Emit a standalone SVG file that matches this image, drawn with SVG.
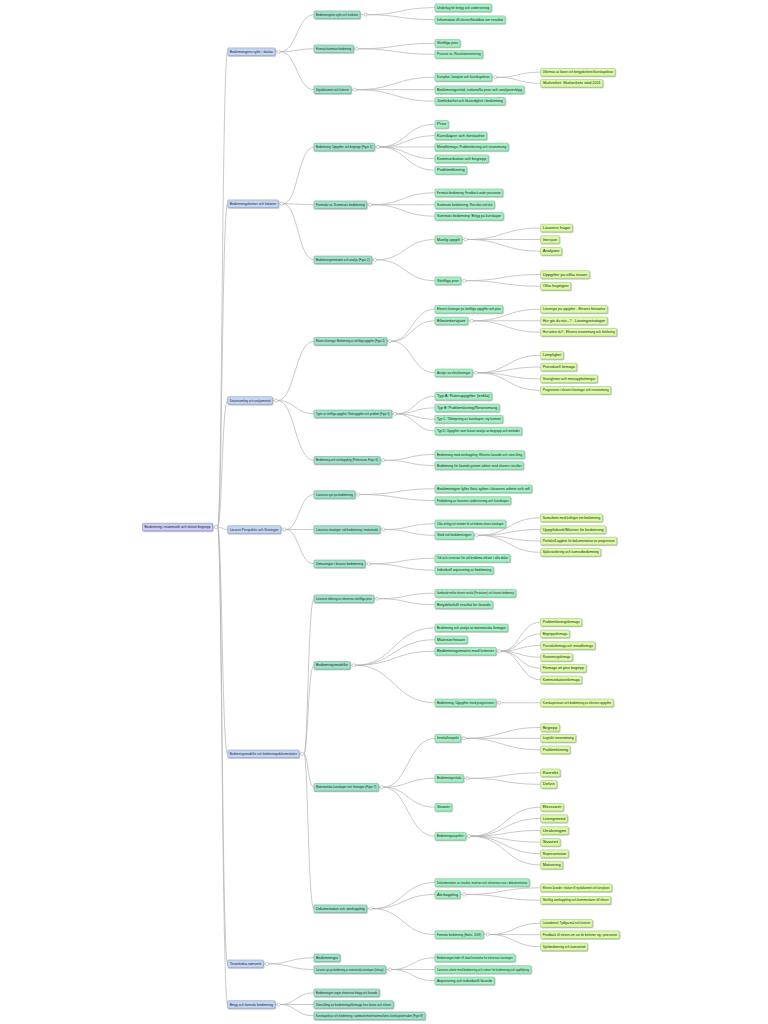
<svg xmlns="http://www.w3.org/2000/svg" width="768" height="1024" viewBox="0 0 768 1024">
<defs>
<filter id="ds" x="-10%" y="-30%" width="120%" height="170%"><feDropShadow dx="0.6" dy="0.8" stdDeviation="0.4" flood-color="#777" flood-opacity="0.6"/></filter>
<style>
rect{stroke-width:0.6;filter:url(#ds)}
.l0 rect{fill:#c9cdf4;stroke:#8b94d6}
.l1 rect{fill:#c5d7f3;stroke:#86a6d6}
.l2 rect{fill:#a0e2cc;stroke:#6fb69b}
.l3 rect{fill:#a4efc4;stroke:#7cc49a}
.l4 rect{fill:#dafca6;stroke:#a9c77e}
text{font-family:"Liberation Sans",Arial,sans-serif;font-size:3.3px;fill:#222}
.c path{fill:none;stroke:#b2b2b2;stroke-width:0.7}
.c line{stroke:#b2b2b2;stroke-width:0.7}
.c circle{fill:#fff;stroke:#9a9a9a;stroke-width:0.5}
</style>
</defs>
<rect width="768" height="1024" fill="#fff" style="filter:none;stroke:none"/>
<g id="connectors" class="c">
<path d="M217.6 527C222 527 222 51.7 227.7 51.7M217.6 527C222 527 222 203.7 227.7 203.7M217.6 527C222 527 222 400.5 227.7 400.5M217.6 527C222 527 222 529.5 227.7 529.5M217.6 527C222 527 222 753.8 227.7 753.8M217.6 527C222 527 222 963.8 227.7 963.8M217.6 527C222 527 222 1004.5 227.7 1004.5"/>
<path d="M280.3 51.7C297 51.7 297 14.7 314 14.7M280.3 51.7C297 51.7 297 48.8 314 48.8M280.3 51.7C297 51.7 297 89.7 314 89.7"/>
<path d="M283.3 203.7C298 203.7 298 147 314 147M283.3 203.7C298 203.7 298 204.7 314 204.7M283.3 203.7C298 203.7 298 259.8 314 259.8"/>
<path d="M277.6 400.5C295 400.5 295 341.2 314 341.2M277.6 400.5C295 400.5 295 413.8 314 413.8M277.6 400.5C295 400.5 295 460.3 314 460.3"/>
<path d="M285.9 529.5C299 529.5 299 494.5 314 494.5M285.9 529.5C299 529.5 299 529.5 314 529.5M285.9 529.5C299 529.5 299 563.8 314 563.8"/>
<path d="M303.9 753.8C308 753.8 308 598.7 314 598.7M303.9 753.8C308 753.8 308 665.3 314 665.3M303.9 753.8C308 753.8 308 787.2 314 787.2M303.9 753.8C308 753.8 308 908.7 314 908.7"/>
<path d="M268.6 963.8C290 963.8 290 957.8 314 957.8M268.6 963.8C290 963.8 290 969.5 314 969.5"/>
<path d="M280.3 1004.5C296 1004.5 296 992.8 314 992.8M280.3 1004.5C296 1004.5 296 1004.5 314 1004.5M280.3 1004.5C296 1004.5 296 1015.8 314 1015.8"/>
<path d="M367.3 14.7C400 14.7 400 7.7 435 7.7M367.3 14.7C400 14.7 400 19.7 435 19.7"/>
<path d="M358.3 48.8C396 48.8 396 43.3 435 43.3M358.3 48.8C396 48.8 396 54.3 435 54.3"/>
<path d="M356.3 89.7C395 89.7 395 77.3 435 77.3M356.3 89.7C395 89.7 395 89.7 435 89.7M356.3 89.7C395 89.7 395 101.2 435 101.2"/>
<path d="M379.6 147C406 147 406 124.3 435 124.3M379.6 147C406 147 406 135.7 435 135.7M379.6 147C406 147 406 147 435 147M379.6 147C406 147 406 158.7 435 158.7M379.6 147C406 147 406 170.2 435 170.2"/>
<path d="M371.9 204.7C403 204.7 403 192.8 435 192.8M371.9 204.7C403 204.7 403 204.7 435 204.7M371.9 204.7C403 204.7 403 216.2 435 216.2"/>
<path d="M376.6 259.8C405 259.8 405 239.5 435 239.5M376.6 259.8C405 259.8 405 280.7 435 280.7"/>
<path d="M391.6 341.2C412 341.2 412 309.2 435 309.2M391.6 341.2C412 341.2 412 320.8 435 320.8M391.6 341.2C412 341.2 412 372.8 435 372.8"/>
<path d="M396.6 413.8C415 413.8 415 396.2 435 396.2M396.6 413.8C415 413.8 415 407.8 435 407.8M396.6 413.8C415 413.8 415 419.2 435 419.2M396.6 413.8C415 413.8 415 431 435 431"/>
<path d="M384.9 460.3C409 460.3 409 454.5 435 454.5M384.9 460.3C409 460.3 409 465.5 435 465.5"/>
<path d="M359.9 494.5C397 494.5 397 488.8 435 488.8M359.9 494.5C397 494.5 397 500.5 435 500.5"/>
<path d="M384.9 529.5C409 529.5 409 523.8 435 523.8M384.9 529.5C409 529.5 409 535.3 435 535.3"/>
<path d="M370.3 563.8C402 563.8 402 558.3 435 558.3M370.3 563.8C402 563.8 402 570.2 435 570.2"/>
<path d="M378.9 598.7C406 598.7 406 593.2 435 593.2M378.9 598.7C406 598.7 406 604.7 435 604.7"/>
<path d="M355.3 665.3C394 665.3 394 627.8 435 627.8M355.3 665.3C394 665.3 394 639.7 435 639.7M355.3 665.3C394 665.3 394 651.2 435 651.2M355.3 665.3C394 665.3 394 702.8 435 702.8"/>
<path d="M383.3 787.2C408 787.2 408 738.3 435 738.3M383.3 787.2C408 787.2 408 778.3 435 778.3M383.3 787.2C408 787.2 408 807.2 435 807.2M383.3 787.2C408 787.2 408 836.2 435 836.2"/>
<path d="M372.3 908.7C403 908.7 403 882.5 435 882.5M372.3 908.7C403 908.7 403 894.5 435 894.5M372.3 908.7C403 908.7 403 934.5 435 934.5"/>
<path d="M391.6 969.5C412 969.5 412 957.8 435 957.8M391.6 969.5C412 969.5 412 969.5 435 969.5M391.6 969.5C412 969.5 412 980.8 435 980.8"/>
<path d="M496.9 77.3C518 77.3 518 72.2 540.7 72.2M496.9 77.3C518 77.3 518 83.3 540.7 83.3"/>
<path d="M467.3 239.5C503 239.5 503 228 540.7 228M467.3 239.5C503 239.5 503 239.5 540.7 239.5M467.3 239.5C503 239.5 503 251.2 540.7 251.2"/>
<path d="M465.9 280.7C502 280.7 502 274.5 540.7 274.5M465.9 280.7C502 280.7 502 286.2 540.7 286.2"/>
<path d="M473.3 320.8C506 320.8 506 309.2 540.7 309.2M473.3 320.8C506 320.8 506 320.8 540.7 320.8M473.3 320.8C506 320.8 506 332.2 540.7 332.2"/>
<path d="M477.6 372.8C508 372.8 508 355.3 540.7 355.3M477.6 372.8C508 372.8 508 367 540.7 367M477.6 372.8C508 372.8 508 378.8 540.7 378.8M477.6 372.8C508 372.8 508 390.3 540.7 390.3"/>
<path d="M478.3 535.3C509 535.3 509 517.8 540.7 517.8M478.3 535.3C509 535.3 509 529.5 540.7 529.5M478.3 535.3C509 535.3 509 541 540.7 541M478.3 535.3C509 535.3 509 552.3 540.7 552.3"/>
<path d="M500.9 651.2C520 651.2 520 622.2 540.7 622.2M500.9 651.2C520 651.2 520 633.8 540.7 633.8M500.9 651.2C520 651.2 520 645.5 540.7 645.5M500.9 651.2C520 651.2 520 657.2 540.7 657.2M500.9 651.2C520 651.2 520 668.3 540.7 668.3M500.9 651.2C520 651.2 520 679.7 540.7 679.7"/>
<path d="M500.9 702.8L540.7 702.8"/>
<path d="M465.6 738.3C502 738.3 502 727.5 540.7 727.5M465.6 738.3C502 738.3 502 738.3 540.7 738.3M465.6 738.3C502 738.3 502 749.8 540.7 749.8"/>
<path d="M468.9 778.3C504 778.3 504 772.8 540.7 772.8M468.9 778.3C504 778.3 504 784.3 540.7 784.3"/>
<path d="M470.6 836.2C505 836.2 505 807.2 540.7 807.2M470.6 836.2C505 836.2 505 818.5 540.7 818.5M470.6 836.2C505 836.2 505 830.5 540.7 830.5M470.6 836.2C505 836.2 505 842.2 540.7 842.2M470.6 836.2C505 836.2 505 853.7 540.7 853.7M470.6 836.2C505 836.2 505 865 540.7 865"/>
<path d="M465.6 894.5C502 894.5 502 887.8 540.7 887.8M465.6 894.5C502 894.5 502 900.2 540.7 900.2"/>
<path d="M489.3 934.5C514 934.5 514 923.3 540.7 923.3M489.3 934.5C514 934.5 514 934.7 540.7 934.7M489.3 934.5C514 934.5 514 946.7 540.7 946.7"/>
<line x1="212.5" y1="527" x2="214.4" y2="527"/><circle cx="216" cy="527" r="1.6"/>
<line x1="275" y1="51.7" x2="277.1" y2="51.7"/><circle cx="278.7" cy="51.7" r="1.6"/>
<line x1="278.3" y1="203.7" x2="280.1" y2="203.7"/><circle cx="281.7" cy="203.7" r="1.6"/>
<line x1="272.3" y1="400.5" x2="274.4" y2="400.5"/><circle cx="276" cy="400.5" r="1.6"/>
<line x1="280.7" y1="529.5" x2="282.7" y2="529.5"/><circle cx="284.3" cy="529.5" r="1.6"/>
<line x1="299" y1="753.8" x2="300.7" y2="753.8"/><circle cx="302.3" cy="753.8" r="1.6"/>
<line x1="263.3" y1="963.8" x2="265.4" y2="963.8"/><circle cx="267" cy="963.8" r="1.6"/>
<line x1="275" y1="1004.5" x2="277.1" y2="1004.5"/><circle cx="278.7" cy="1004.5" r="1.6"/>
<line x1="360" y1="14.7" x2="364.1" y2="14.7"/><circle cx="365.7" cy="14.7" r="1.6"/>
<line x1="353.3" y1="48.8" x2="355.1" y2="48.8"/><circle cx="356.7" cy="48.8" r="1.6"/>
<line x1="351" y1="89.7" x2="353.1" y2="89.7"/><circle cx="354.7" cy="89.7" r="1.6"/>
<line x1="374.3" y1="147" x2="376.4" y2="147"/><circle cx="378" cy="147" r="1.6"/>
<line x1="366.7" y1="204.7" x2="368.7" y2="204.7"/><circle cx="370.3" cy="204.7" r="1.6"/>
<line x1="371.7" y1="259.8" x2="373.4" y2="259.8"/><circle cx="375" cy="259.8" r="1.6"/>
<line x1="386.7" y1="341.2" x2="388.4" y2="341.2"/><circle cx="390" cy="341.2" r="1.6"/>
<line x1="391.7" y1="413.8" x2="393.4" y2="413.8"/><circle cx="395" cy="413.8" r="1.6"/>
<line x1="380" y1="460.3" x2="381.7" y2="460.3"/><circle cx="383.3" cy="460.3" r="1.6"/>
<line x1="355" y1="494.5" x2="356.7" y2="494.5"/><circle cx="358.3" cy="494.5" r="1.6"/>
<line x1="380" y1="529.5" x2="381.7" y2="529.5"/><circle cx="383.3" cy="529.5" r="1.6"/>
<line x1="365" y1="563.8" x2="367.1" y2="563.8"/><circle cx="368.7" cy="563.8" r="1.6"/>
<line x1="373.7" y1="598.7" x2="375.7" y2="598.7"/><circle cx="377.3" cy="598.7" r="1.6"/>
<line x1="350" y1="665.3" x2="352.1" y2="665.3"/><circle cx="353.7" cy="665.3" r="1.6"/>
<line x1="378.3" y1="787.2" x2="380.1" y2="787.2"/><circle cx="381.7" cy="787.2" r="1.6"/>
<line x1="366.7" y1="908.7" x2="369.1" y2="908.7"/><circle cx="370.7" cy="908.7" r="1.6"/>
<line x1="385.7" y1="969.5" x2="388.4" y2="969.5"/><circle cx="390" cy="969.5" r="1.6"/>
<line x1="491.7" y1="77.3" x2="493.7" y2="77.3"/><circle cx="495.3" cy="77.3" r="1.6"/>
<line x1="461.7" y1="239.5" x2="464.1" y2="239.5"/><circle cx="465.7" cy="239.5" r="1.6"/>
<line x1="460.7" y1="280.7" x2="462.7" y2="280.7"/><circle cx="464.3" cy="280.7" r="1.6"/>
<line x1="467.7" y1="320.8" x2="470.1" y2="320.8"/><circle cx="471.7" cy="320.8" r="1.6"/>
<line x1="472.3" y1="372.8" x2="474.4" y2="372.8"/><circle cx="476" cy="372.8" r="1.6"/>
<line x1="473.3" y1="535.3" x2="475.1" y2="535.3"/><circle cx="476.7" cy="535.3" r="1.6"/>
<line x1="496" y1="651.2" x2="497.7" y2="651.2"/><circle cx="499.3" cy="651.2" r="1.6"/>
<line x1="496" y1="702.8" x2="497.7" y2="702.8"/><circle cx="499.3" cy="702.8" r="1.6"/>
<line x1="460.7" y1="738.3" x2="462.4" y2="738.3"/><circle cx="464" cy="738.3" r="1.6"/>
<line x1="463.3" y1="778.3" x2="465.7" y2="778.3"/><circle cx="467.3" cy="778.3" r="1.6"/>
<line x1="465.7" y1="836.2" x2="467.4" y2="836.2"/><circle cx="469" cy="836.2" r="1.6"/>
<line x1="460" y1="894.5" x2="462.4" y2="894.5"/><circle cx="464" cy="894.5" r="1.6"/>
<line x1="483.3" y1="934.5" x2="486.1" y2="934.5"/><circle cx="487.7" cy="934.5" r="1.6"/>
</g>
<g id="root" class="l0"><rect x="142.5" y="523.25" width="70" height="7.5" rx="0.8"/><text x="144.5" y="528.15" textLength="66" lengthAdjust="spacingAndGlyphs">Bedömning i matematik och skrivet begrepp</text></g>
<g id="n-A" class="l1"><rect x="227.7" y="47.95" width="47.3" height="7.5" rx="0.8"/><text x="229.7" y="52.85" textLength="43.3" lengthAdjust="spacingAndGlyphs">Bedömningens syfte i skolan</text></g>
<g id="n-B" class="l1"><rect x="227.7" y="199.95" width="50.6" height="7.5" rx="0.8"/><text x="229.7" y="204.85" textLength="46.6" lengthAdjust="spacingAndGlyphs">Bedömningsformer och faktorer</text></g>
<g id="n-C" class="l1"><rect x="227.7" y="396.75" width="44.6" height="7.5" rx="0.8"/><text x="229.7" y="401.65" textLength="40.6" lengthAdjust="spacingAndGlyphs">Datainsamling och analysmetod</text></g>
<g id="n-D" class="l1"><rect x="227.7" y="525.75" width="53" height="7.5" rx="0.8"/><text x="229.7" y="530.65" textLength="49" lengthAdjust="spacingAndGlyphs">Lärares Perspektiv och Strategier</text></g>
<g id="n-E" class="l1"><rect x="227.7" y="750.05" width="71.3" height="7.5" rx="0.8"/><text x="229.7" y="754.95" textLength="67.3" lengthAdjust="spacingAndGlyphs">Bedömningsmodeller och bedömningsdokumentation</text></g>
<g id="n-F" class="l1"><rect x="227.7" y="960.05" width="35.6" height="7.5" rx="0.8"/><text x="229.7" y="964.95" textLength="31.6" lengthAdjust="spacingAndGlyphs">Teoretiska ramverk</text></g>
<g id="n-G" class="l1"><rect x="227.7" y="1000.75" width="47.3" height="7.5" rx="0.8"/><text x="229.7" y="1005.65" textLength="43.3" lengthAdjust="spacingAndGlyphs">Betyg och formativ bedömning</text></g>
<g id="n-A1" class="l2"><rect x="314" y="10.95" width="46" height="7.5" rx="0.8"/><text x="316" y="15.85" textLength="42" lengthAdjust="spacingAndGlyphs">Bedömningens syfte och funktion</text></g>
<g id="n-A2" class="l2"><rect x="314" y="45.05" width="39.3" height="7.5" rx="0.8"/><text x="316" y="49.95" textLength="35.3" lengthAdjust="spacingAndGlyphs">Formativ/summativ bedömning</text></g>
<g id="n-A3" class="l2"><rect x="314" y="85.95" width="37" height="7.5" rx="0.8"/><text x="316" y="90.85" textLength="33" lengthAdjust="spacingAndGlyphs">Styrdokument och kriterier</text></g>
<g id="n-B1" class="l2"><rect x="314" y="143.25" width="60.3" height="7.5" rx="0.8"/><text x="316" y="148.15" textLength="56.3" lengthAdjust="spacingAndGlyphs">Bedömning: Uppgifter och begrepp (Figur 1)</text></g>
<g id="n-B2" class="l2"><rect x="314" y="200.95" width="52.7" height="7.5" rx="0.8"/><text x="316" y="205.85" textLength="48.7" lengthAdjust="spacingAndGlyphs">Formativ vs. Summativ bedömning</text></g>
<g id="n-B3" class="l2"><rect x="314" y="256.05" width="57.7" height="7.5" rx="0.8"/><text x="316" y="260.95" textLength="53.7" lengthAdjust="spacingAndGlyphs">Bedömningsmetoder och analys (Figur 2)</text></g>
<g id="n-C1" class="l2"><rect x="314" y="337.45" width="72.7" height="7.5" rx="0.8"/><text x="316" y="342.35" textLength="68.7" lengthAdjust="spacingAndGlyphs">Elevers lösningar: Bedömning av skriftliga uppgifter (Figur 4)</text></g>
<g id="n-C2" class="l2"><rect x="314" y="410.05" width="77.7" height="7.5" rx="0.8"/><text x="316" y="414.95" textLength="73.7" lengthAdjust="spacingAndGlyphs">Typer av skriftliga uppgifter: Rutinuppgifter och problem (Figur 5)</text></g>
<g id="n-C3" class="l2"><rect x="314" y="456.55" width="66" height="7.5" rx="0.8"/><text x="316" y="461.45" textLength="62" lengthAdjust="spacingAndGlyphs">Bedömning och återkoppling (Pettersson, Figur 6)</text></g>
<g id="n-D1" class="l2"><rect x="314" y="490.75" width="41" height="7.5" rx="0.8"/><text x="316" y="495.65" textLength="37" lengthAdjust="spacingAndGlyphs">Lärarens syn på bedömning</text></g>
<g id="n-D2" class="l2"><rect x="314" y="525.75" width="66" height="7.5" rx="0.8"/><text x="316" y="530.65" textLength="62" lengthAdjust="spacingAndGlyphs">Lärarens strategier vid bedömning i matematik</text></g>
<g id="n-D3" class="l2"><rect x="314" y="560.05" width="51" height="7.5" rx="0.8"/><text x="316" y="564.95" textLength="47" lengthAdjust="spacingAndGlyphs">Utmaningar i lärares bedömning</text></g>
<g id="n-E1" class="l2"><rect x="314" y="594.95" width="59.7" height="7.5" rx="0.8"/><text x="316" y="599.85" textLength="55.7" lengthAdjust="spacingAndGlyphs">Lärarens tolkning av elevernas skriftliga prov</text></g>
<g id="n-E2" class="l2"><rect x="314" y="661.55" width="36" height="7.5" rx="0.8"/><text x="316" y="666.45" textLength="32" lengthAdjust="spacingAndGlyphs">Bedömningsmodeller</text></g>
<g id="n-E3" class="l2"><rect x="314" y="783.45" width="64.3" height="7.5" rx="0.8"/><text x="316" y="788.35" textLength="60.3" lengthAdjust="spacingAndGlyphs">Matematiska kunskaper och förmågor (Figur 7)</text></g>
<g id="n-E4" class="l2"><rect x="314" y="904.95" width="52.7" height="7.5" rx="0.8"/><text x="316" y="909.85" textLength="48.7" lengthAdjust="spacingAndGlyphs">Dokumentation och återkoppling</text></g>
<g id="n-F1" class="l2"><rect x="314" y="954.05" width="26" height="7.5" rx="0.8"/><text x="316" y="958.95" textLength="22" lengthAdjust="spacingAndGlyphs">Bedömningar</text></g>
<g id="n-F2" class="l2"><rect x="314" y="965.75" width="71.7" height="7.5" rx="0.8"/><text x="316" y="970.65" textLength="67.7" lengthAdjust="spacingAndGlyphs">Lärarens syn på bedömning av matematiska kunskaper (Intervju)</text></g>
<g id="n-G1" class="l2"><rect x="314" y="989.05" width="65.3" height="7.5" rx="0.8"/><text x="316" y="993.95" textLength="61.3" lengthAdjust="spacingAndGlyphs">Bedömningen avgör elevernas betyg och lärande</text></g>
<g id="n-G2" class="l2"><rect x="314" y="1000.75" width="79.3" height="7.5" rx="0.8"/><text x="316" y="1005.65" textLength="75.3" lengthAdjust="spacingAndGlyphs">Utveckling av bedömningsförmåga hos lärare och elever</text></g>
<g id="n-G3" class="l2"><rect x="314" y="1012.05" width="111" height="7.5" rx="0.8"/><text x="316" y="1016.95" textLength="107" lengthAdjust="spacingAndGlyphs">Kunskapskrav och bedömning i samband med matematikens kunskapsområden (Figur 8)</text></g>
<g id="n-A1a" class="l3"><rect x="435" y="3.95" width="56.3" height="7.5" rx="0.8"/><text x="437" y="8.85" textLength="52.3" lengthAdjust="spacingAndGlyphs">Underlag för betyg och undervisning</text></g>
<g id="n-A1b" class="l3"><rect x="435" y="15.95" width="70" height="7.5" rx="0.8"/><text x="437" y="20.85" textLength="66" lengthAdjust="spacingAndGlyphs">Information till elever/föräldrar om resultat</text></g>
<g id="n-A2a" class="l3"><rect x="435" y="39.55" width="25" height="7.5" rx="0.8"/><text x="437" y="44.45" textLength="21" lengthAdjust="spacingAndGlyphs">Skriftliga prov</text></g>
<g id="n-A2b" class="l3"><rect x="435" y="50.55" width="47.7" height="7.5" rx="0.8"/><text x="437" y="55.45" textLength="43.7" lengthAdjust="spacingAndGlyphs">Process vs. Resultatorientering</text></g>
<g id="n-A3a" class="l3"><rect x="435" y="73.55" width="56.7" height="7.5" rx="0.8"/><text x="437" y="78.45" textLength="52.7" lengthAdjust="spacingAndGlyphs">Kursplan, läroplan och kunskapskrav</text></g>
<g id="n-A3b" class="l3"><rect x="435" y="85.95" width="89" height="7.5" rx="0.8"/><text x="437" y="90.85" textLength="85" lengthAdjust="spacingAndGlyphs">Bedömningsstöd, nationella prov och analysverktyg</text></g>
<g id="n-A3c" class="l3"><rect x="435" y="97.45" width="70" height="7.5" rx="0.8"/><text x="437" y="102.35" textLength="66" lengthAdjust="spacingAndGlyphs">Jämförbarhet och likvärdighet i bedömning</text></g>
<g id="n-B1a" class="l3"><rect x="435" y="120.55" width="13.3" height="7.5" rx="0.8"/><text x="437" y="125.45" textLength="9.3" lengthAdjust="spacingAndGlyphs">Prov</text></g>
<g id="n-B1b" class="l3"><rect x="435" y="131.95" width="51.7" height="7.5" rx="0.8"/><text x="437" y="136.85" textLength="47.7" lengthAdjust="spacingAndGlyphs">Kunskaper och förståelse</text></g>
<g id="n-B1c" class="l3"><rect x="435" y="143.25" width="73.3" height="7.5" rx="0.8"/><text x="437" y="148.15" textLength="69.3" lengthAdjust="spacingAndGlyphs">Metodförmåga: Problemlösning och resonemang</text></g>
<g id="n-B1d" class="l3"><rect x="435" y="154.95" width="53.3" height="7.5" rx="0.8"/><text x="437" y="159.85" textLength="49.3" lengthAdjust="spacingAndGlyphs">Kommunikation och begrepp</text></g>
<g id="n-B1e" class="l3"><rect x="435" y="166.45" width="31.7" height="7.5" rx="0.8"/><text x="437" y="171.35" textLength="27.7" lengthAdjust="spacingAndGlyphs">Problemlösning</text></g>
<g id="n-B2a" class="l3"><rect x="435" y="189.05" width="67.7" height="7.5" rx="0.8"/><text x="437" y="193.95" textLength="63.7" lengthAdjust="spacingAndGlyphs">Formativ bedömning: Feedback under processen</text></g>
<g id="n-B2b" class="l3"><rect x="435" y="200.95" width="59.3" height="7.5" rx="0.8"/><text x="437" y="205.85" textLength="55.3" lengthAdjust="spacingAndGlyphs">Summativ bedömning: Resultat vid slut</text></g>
<g id="n-B2c" class="l3"><rect x="435" y="212.45" width="68.3" height="7.5" rx="0.8"/><text x="437" y="217.35" textLength="64.3" lengthAdjust="spacingAndGlyphs">Summativ bedömning: Betyg på kunskaper</text></g>
<g id="n-B3a" class="l3"><rect x="435" y="235.75" width="26.7" height="7.5" rx="0.8"/><text x="437" y="240.65" textLength="22.7" lengthAdjust="spacingAndGlyphs">Muntlig uppgift</text></g>
<g id="n-B3b" class="l3"><rect x="435" y="276.95" width="25.7" height="7.5" rx="0.8"/><text x="437" y="281.85" textLength="21.7" lengthAdjust="spacingAndGlyphs">Skriftliga prov</text></g>
<g id="n-C1a" class="l3"><rect x="435" y="305.45" width="67.7" height="7.5" rx="0.8"/><text x="437" y="310.35" textLength="63.7" lengthAdjust="spacingAndGlyphs">Elevers lösningar på skriftliga uppgifter och prov</text></g>
<g id="n-C1b" class="l3"><rect x="435" y="317.05" width="32.7" height="7.5" rx="0.8"/><text x="437" y="321.95" textLength="28.7" lengthAdjust="spacingAndGlyphs">Elevintervjuer</text></g>
<g id="n-C1c" class="l3"><rect x="435" y="369.05" width="37.3" height="7.5" rx="0.8"/><text x="437" y="373.95" textLength="33.3" lengthAdjust="spacingAndGlyphs">Analys av elevlösningar</text></g>
<g id="n-C2a" class="l3"><rect x="435" y="392.45" width="56.7" height="7.5" rx="0.8"/><text x="437" y="397.35" textLength="52.7" lengthAdjust="spacingAndGlyphs">Typ A: Rutinuppgifter (enkla)</text></g>
<g id="n-C2b" class="l3"><rect x="435" y="404.05" width="64.3" height="7.5" rx="0.8"/><text x="437" y="408.95" textLength="60.3" lengthAdjust="spacingAndGlyphs">Typ B: Problemlösning/Resonemang</text></g>
<g id="n-C2c" class="l3"><rect x="435" y="415.45" width="67.7" height="7.5" rx="0.8"/><text x="437" y="420.35" textLength="63.7" lengthAdjust="spacingAndGlyphs">Typ C: Tillämpning av kunskaper i ny kontext</text></g>
<g id="n-C2d" class="l3"><rect x="435" y="427.25" width="86.7" height="7.5" rx="0.8"/><text x="437" y="432.15" textLength="82.7" lengthAdjust="spacingAndGlyphs">Typ D: Uppgifter som kräver analys av begrepp och metoder</text></g>
<g id="n-C3a" class="l3"><rect x="435" y="450.75" width="89.3" height="7.5" rx="0.8"/><text x="437" y="455.65" textLength="85.3" lengthAdjust="spacingAndGlyphs">Bedömning med återkoppling: Elevens lärande och utveckling</text></g>
<g id="n-C3b" class="l3"><rect x="435" y="461.75" width="88.3" height="7.5" rx="0.8"/><text x="437" y="466.65" textLength="84.3" lengthAdjust="spacingAndGlyphs">Bedömning för lärande genom arbete med elevens resultat</text></g>
<g id="n-D1a" class="l3"><rect x="435" y="485.05" width="96.7" height="7.5" rx="0.8"/><text x="437" y="489.95" textLength="92.7" lengthAdjust="spacingAndGlyphs">Bedömningen fyller flera syften i lärarens arbete och roll</text></g>
<g id="n-D1b" class="l3"><rect x="435" y="496.75" width="75.7" height="7.5" rx="0.8"/><text x="437" y="501.65" textLength="71.7" lengthAdjust="spacingAndGlyphs">Förbättring av lärarens undervisning och kunskaper</text></g>
<g id="n-D2a" class="l3"><rect x="435" y="520.05" width="70.7" height="7.5" rx="0.8"/><text x="437" y="524.95" textLength="66.7" lengthAdjust="spacingAndGlyphs">Olika verktyg och metoder för att bedöma elevers kunskaper</text></g>
<g id="n-D2b" class="l3"><rect x="435" y="531.55" width="38.3" height="7.5" rx="0.8"/><text x="437" y="536.45" textLength="34.3" lengthAdjust="spacingAndGlyphs">Stöd vid bedömningen</text></g>
<g id="n-D3a" class="l3"><rect x="435" y="554.55" width="75" height="7.5" rx="0.8"/><text x="437" y="559.45" textLength="71" lengthAdjust="spacingAndGlyphs">Tid och resurser för att bedöma elever i alla delar</text></g>
<g id="n-D3b" class="l3"><rect x="435" y="566.45" width="58.3" height="7.5" rx="0.8"/><text x="437" y="571.35" textLength="54.3" lengthAdjust="spacingAndGlyphs">Individuell anpassning av bedömning</text></g>
<g id="n-E1a" class="l3"><rect x="435" y="589.45" width="80.7" height="7.5" rx="0.8"/><text x="437" y="594.35" textLength="76.7" lengthAdjust="spacingAndGlyphs">Sambandet mellan elevens resultat (Prestationer) och lärarens bedömning</text></g>
<g id="n-E1b" class="l3"><rect x="435" y="600.95" width="57.7" height="7.5" rx="0.8"/><text x="437" y="605.85" textLength="53.7" lengthAdjust="spacingAndGlyphs">Betydelsefullt resultat för lärande</text></g>
<g id="n-E2a" class="l3"><rect x="435" y="624.05" width="72.7" height="7.5" rx="0.8"/><text x="437" y="628.95" textLength="68.7" lengthAdjust="spacingAndGlyphs">Bedömning och analys av matematiska förmågor</text></g>
<g id="n-E2b" class="l3"><rect x="435" y="635.95" width="32.3" height="7.5" rx="0.8"/><text x="437" y="640.85" textLength="28.3" lengthAdjust="spacingAndGlyphs">Matriser/nivåer</text></g>
<g id="n-E2c" class="l3"><rect x="435" y="647.45" width="61" height="7.5" rx="0.8"/><text x="437" y="652.35" textLength="57" lengthAdjust="spacingAndGlyphs">Bedömningsmatris med kriterier</text></g>
<g id="n-E2d" class="l3"><rect x="435" y="699.05" width="61" height="7.5" rx="0.8"/><text x="437" y="703.95" textLength="57" lengthAdjust="spacingAndGlyphs">Bedömning: Uppgifter med progression</text></g>
<g id="n-E3a" class="l3"><rect x="435" y="734.55" width="25.7" height="7.5" rx="0.8"/><text x="437" y="739.45" textLength="21.7" lengthAdjust="spacingAndGlyphs">Innehållsaspekt</text></g>
<g id="n-E3b" class="l3"><rect x="435" y="774.55" width="28.3" height="7.5" rx="0.8"/><text x="437" y="779.45" textLength="24.3" lengthAdjust="spacingAndGlyphs">Bedömningsskala</text></g>
<g id="n-E3c" class="l3"><rect x="435" y="803.45" width="16.7" height="7.5" rx="0.8"/><text x="437" y="808.35" textLength="12.7" lengthAdjust="spacingAndGlyphs">Svaret</text></g>
<g id="n-E3d" class="l3"><rect x="435" y="832.45" width="30.7" height="7.5" rx="0.8"/><text x="437" y="837.35" textLength="26.7" lengthAdjust="spacingAndGlyphs">Bedömningsaspekter</text></g>
<g id="n-E4a" class="l3"><rect x="435" y="878.75" width="94.3" height="7.5" rx="0.8"/><text x="437" y="883.65" textLength="90.3" lengthAdjust="spacingAndGlyphs">Dokumentation av resultat, matriser och elevernas svar i dokumentation</text></g>
<g id="n-E4b" class="l3"><rect x="435" y="890.75" width="25" height="7.5" rx="0.8"/><text x="437" y="895.65" textLength="21" lengthAdjust="spacingAndGlyphs">Återkoppling</text></g>
<g id="n-E4c" class="l3"><rect x="435" y="930.75" width="48.3" height="7.5" rx="0.8"/><text x="437" y="935.65" textLength="44.3" lengthAdjust="spacingAndGlyphs">Formativ bedömning (Hattie, 2009)</text></g>
<g id="n-F2a" class="l3"><rect x="435" y="954.05" width="80" height="7.5" rx="0.8"/><text x="437" y="958.95" textLength="76" lengthAdjust="spacingAndGlyphs">Bedömningen leder till ökad förståelse för elevernas kunskaper</text></g>
<g id="n-F2b" class="l3"><rect x="435" y="965.75" width="96" height="7.5" rx="0.8"/><text x="437" y="970.65" textLength="92" lengthAdjust="spacingAndGlyphs">Lärarens arbete med bedömning och rutiner för bedömning och uppföljning</text></g>
<g id="n-F2c" class="l3"><rect x="435" y="977.05" width="59.3" height="7.5" rx="0.8"/><text x="437" y="981.95" textLength="55.3" lengthAdjust="spacingAndGlyphs">Anpassning och individuellt lärande</text></g>
<g id="n-A3a1" class="l4"><rect x="540.7" y="68.45" width="74.3" height="7.5" rx="0.8"/><text x="542.7" y="73.35" textLength="70.3" lengthAdjust="spacingAndGlyphs">Utformas av lärare och betygskriterier/kunskapskrav</text></g>
<g id="n-A3a2" class="l4"><rect x="540.7" y="79.55" width="62" height="7.5" rx="0.8"/><text x="542.7" y="84.45" textLength="58" lengthAdjust="spacingAndGlyphs">Skolverket: Skolverkets stöd 2011</text></g>
<g id="n-B3a1" class="l4"><rect x="540.7" y="224.25" width="31.6" height="7.5" rx="0.8"/><text x="542.7" y="229.15" textLength="27.6" lengthAdjust="spacingAndGlyphs">Lärarens frågor</text></g>
<g id="n-B3a2" class="l4"><rect x="540.7" y="235.75" width="18.6" height="7.5" rx="0.8"/><text x="542.7" y="240.65" textLength="14.6" lengthAdjust="spacingAndGlyphs">Intervjuer</text></g>
<g id="n-B3a3" class="l4"><rect x="540.7" y="247.45" width="21" height="7.5" rx="0.8"/><text x="542.7" y="252.35" textLength="17" lengthAdjust="spacingAndGlyphs">Analysen</text></g>
<g id="n-B3b1" class="l4"><rect x="540.7" y="270.75" width="48.6" height="7.5" rx="0.8"/><text x="542.7" y="275.65" textLength="44.6" lengthAdjust="spacingAndGlyphs">Uppgifter på olika nivåer</text></g>
<g id="n-B3b2" class="l4"><rect x="540.7" y="282.45" width="30" height="7.5" rx="0.8"/><text x="542.7" y="287.35" textLength="26" lengthAdjust="spacingAndGlyphs">Olika frågetyper</text></g>
<g id="n-C1b1" class="l4"><rect x="540.7" y="305.45" width="66.6" height="7.5" rx="0.8"/><text x="542.7" y="310.35" textLength="62.6" lengthAdjust="spacingAndGlyphs">Lösningar på uppgifter - Elevens förståelse</text></g>
<g id="n-C1b2" class="l4"><rect x="540.7" y="317.05" width="66.6" height="7.5" rx="0.8"/><text x="542.7" y="321.95" textLength="62.6" lengthAdjust="spacingAndGlyphs">Hur gör du när...? - Lösningsstrategier</text></g>
<g id="n-C1b3" class="l4"><rect x="540.7" y="328.45" width="76" height="7.5" rx="0.8"/><text x="542.7" y="333.35" textLength="72" lengthAdjust="spacingAndGlyphs">Hur tänker du? - Elevens resonemang och förklaring</text></g>
<g id="n-C1c1" class="l4"><rect x="540.7" y="351.55" width="22.6" height="7.5" rx="0.8"/><text x="542.7" y="356.45" textLength="18.6" lengthAdjust="spacingAndGlyphs">Lämplighet</text></g>
<g id="n-C1c2" class="l4"><rect x="540.7" y="363.25" width="36" height="7.5" rx="0.8"/><text x="542.7" y="368.15" textLength="32" lengthAdjust="spacingAndGlyphs">Procedurell förmåga</text></g>
<g id="n-C1c3" class="l4"><rect x="540.7" y="375.05" width="56.6" height="7.5" rx="0.8"/><text x="542.7" y="379.95" textLength="52.6" lengthAdjust="spacingAndGlyphs">Svårigheter och missuppfattningar</text></g>
<g id="n-C1c4" class="l4"><rect x="540.7" y="386.55" width="70" height="7.5" rx="0.8"/><text x="542.7" y="391.45" textLength="66" lengthAdjust="spacingAndGlyphs">Progression i elevers lösningar och resonemang</text></g>
<g id="n-D2b1" class="l4"><rect x="540.7" y="514.05" width="61.6" height="7.5" rx="0.8"/><text x="542.7" y="518.95" textLength="57.6" lengthAdjust="spacingAndGlyphs">Samarbete med kollegor om bedömning</text></g>
<g id="n-D2b2" class="l4"><rect x="540.7" y="525.75" width="65" height="7.5" rx="0.8"/><text x="542.7" y="530.65" textLength="61" lengthAdjust="spacingAndGlyphs">Uppgiftsbank/Matriser för bedömning</text></g>
<g id="n-D2b3" class="l4"><rect x="540.7" y="537.25" width="76" height="7.5" rx="0.8"/><text x="542.7" y="542.15" textLength="72" lengthAdjust="spacingAndGlyphs">Portfolio/Loggbok för dokumentation av progression</text></g>
<g id="n-D2b4" class="l4"><rect x="540.7" y="548.55" width="60" height="7.5" rx="0.8"/><text x="542.7" y="553.45" textLength="56" lengthAdjust="spacingAndGlyphs">Självvärdering och kamratbedömning</text></g>
<g id="n-E2c1" class="l4"><rect x="540.7" y="618.45" width="41" height="7.5" rx="0.8"/><text x="542.7" y="623.35" textLength="37" lengthAdjust="spacingAndGlyphs">Problemlösningsförmåga</text></g>
<g id="n-E2c2" class="l4"><rect x="540.7" y="630.05" width="28.6" height="7.5" rx="0.8"/><text x="542.7" y="634.95" textLength="24.6" lengthAdjust="spacingAndGlyphs">Begreppsförmåga</text></g>
<g id="n-E2c3" class="l4"><rect x="540.7" y="641.75" width="54.3" height="7.5" rx="0.8"/><text x="542.7" y="646.65" textLength="50.3" lengthAdjust="spacingAndGlyphs">Procedurförmåga och metodförmåga</text></g>
<g id="n-E2c4" class="l4"><rect x="540.7" y="653.45" width="31.6" height="7.5" rx="0.8"/><text x="542.7" y="658.35" textLength="27.6" lengthAdjust="spacingAndGlyphs">Resonemangsförmåga</text></g>
<g id="n-E2c5" class="l4"><rect x="540.7" y="664.55" width="45.3" height="7.5" rx="0.8"/><text x="542.7" y="669.45" textLength="41.3" lengthAdjust="spacingAndGlyphs">Förmåga att göra begrepp</text></g>
<g id="n-E2c6" class="l4"><rect x="540.7" y="675.95" width="41" height="7.5" rx="0.8"/><text x="542.7" y="680.85" textLength="37" lengthAdjust="spacingAndGlyphs">Kommunikationsförmåga</text></g>
<g id="n-E2d1" class="l4"><rect x="540.7" y="699.05" width="72.6" height="7.5" rx="0.8"/><text x="542.7" y="703.95" textLength="68.6" lengthAdjust="spacingAndGlyphs">Kunskapsnivåer och bedömning av elevens uppgifter</text></g>
<g id="n-E3a1" class="l4"><rect x="540.7" y="723.75" width="18.6" height="7.5" rx="0.8"/><text x="542.7" y="728.65" textLength="14.6" lengthAdjust="spacingAndGlyphs">Begrepp</text></g>
<g id="n-E3a2" class="l4"><rect x="540.7" y="734.55" width="35" height="7.5" rx="0.8"/><text x="542.7" y="739.45" textLength="31" lengthAdjust="spacingAndGlyphs">Logiskt resonemang</text></g>
<g id="n-E3a3" class="l4"><rect x="540.7" y="746.05" width="29.3" height="7.5" rx="0.8"/><text x="542.7" y="750.95" textLength="25.3" lengthAdjust="spacingAndGlyphs">Problemlösning</text></g>
<g id="n-E3b1" class="l4"><rect x="540.7" y="769.05" width="19.3" height="7.5" rx="0.8"/><text x="542.7" y="773.95" textLength="15.3" lengthAdjust="spacingAndGlyphs">Korrekt</text></g>
<g id="n-E3b2" class="l4"><rect x="540.7" y="780.55" width="16" height="7.5" rx="0.8"/><text x="542.7" y="785.45" textLength="12" lengthAdjust="spacingAndGlyphs">Delvis</text></g>
<g id="n-E3d1" class="l4"><rect x="540.7" y="803.45" width="22.6" height="7.5" rx="0.8"/><text x="542.7" y="808.35" textLength="18.6" lengthAdjust="spacingAndGlyphs">Elevsvaret</text></g>
<g id="n-E3d2" class="l4"><rect x="540.7" y="814.75" width="26.6" height="7.5" rx="0.8"/><text x="542.7" y="819.65" textLength="22.6" lengthAdjust="spacingAndGlyphs">Lösningsmetod</text></g>
<g id="n-E3d3" class="l4"><rect x="540.7" y="826.75" width="27.6" height="7.5" rx="0.8"/><text x="542.7" y="831.65" textLength="23.6" lengthAdjust="spacingAndGlyphs">Uträkningen</text></g>
<g id="n-E3d4" class="l4"><rect x="540.7" y="838.45" width="19.3" height="7.5" rx="0.8"/><text x="542.7" y="843.35" textLength="15.3" lengthAdjust="spacingAndGlyphs">Svaret</text></g>
<g id="n-E3d5" class="l4"><rect x="540.7" y="849.95" width="27.6" height="7.5" rx="0.8"/><text x="542.7" y="854.85" textLength="23.6" lengthAdjust="spacingAndGlyphs">Representation</text></g>
<g id="n-E3d6" class="l4"><rect x="540.7" y="861.25" width="22" height="7.5" rx="0.8"/><text x="542.7" y="866.15" textLength="18" lengthAdjust="spacingAndGlyphs">Motivering</text></g>
<g id="n-E4b1" class="l4"><rect x="540.7" y="884.05" width="71" height="7.5" rx="0.8"/><text x="542.7" y="888.95" textLength="67" lengthAdjust="spacingAndGlyphs">Elevens lärande i relation till styrdokument och kursplaner</text></g>
<g id="n-E4b2" class="l4"><rect x="540.7" y="896.45" width="70" height="7.5" rx="0.8"/><text x="542.7" y="901.35" textLength="66" lengthAdjust="spacingAndGlyphs">Skriftlig återkoppling och kommentarer till elever</text></g>
<g id="n-E4c1" class="l4"><rect x="540.7" y="919.55" width="51.6" height="7.5" rx="0.8"/><text x="542.7" y="924.45" textLength="47.6" lengthAdjust="spacingAndGlyphs">Lärandemål: Tydliga mål och kriterier</text></g>
<g id="n-E4c2" class="l4"><rect x="540.7" y="930.95" width="78.6" height="7.5" rx="0.8"/><text x="542.7" y="935.85" textLength="74.6" lengthAdjust="spacingAndGlyphs">Feedback till eleven om var de befinner sig i processen</text></g>
<g id="n-E4c3" class="l4"><rect x="540.7" y="942.95" width="46.6" height="7.5" rx="0.8"/><text x="542.7" y="947.85" textLength="42.6" lengthAdjust="spacingAndGlyphs">Självbedömning och kamratstöd</text></g>
</svg>
